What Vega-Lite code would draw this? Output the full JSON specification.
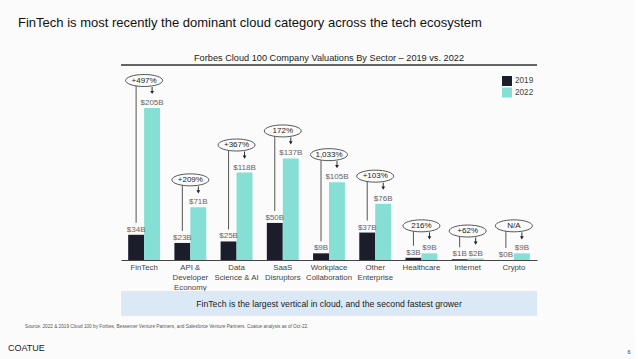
{
  "$schema": "https://vega.github.io/schema/vega-lite/v6.json",
  "background": "#fbfbfb",
  "padding": {"left": 8, "top": 17, "right": 4, "bottom": 2},
  "config": {"font": "Liberation Sans", "view": {"stroke": null}},
  "title": {
    "text": "FinTech is most recently the dominant cloud category across the tech ecosystem",
    "anchor": "start", "frame": "group", "dx": -103, "offset": 24,
    "fontSize": 13, "fontWeight": "normal", "color": "#111111"
  },
  "bounds": "flush",
  "spacing": 31,
  "datasets": {
    "bars": [
      {"sector": "FinTech", "year": "2019", "value": 34, "label": "$34B"},
      {"sector": "FinTech", "year": "2022", "value": 205, "label": "$205B"},
      {"sector": "API &\nDeveloper\nEconomy", "year": "2019", "value": 23, "label": "$23B"},
      {"sector": "API &\nDeveloper\nEconomy", "year": "2022", "value": 71, "label": "$71B"},
      {"sector": "Data\nScience & AI", "year": "2019", "value": 25, "label": "$25B"},
      {"sector": "Data\nScience & AI", "year": "2022", "value": 118, "label": "$118B"},
      {"sector": "SaaS\nDisruptors", "year": "2019", "value": 50, "label": "$50B"},
      {"sector": "SaaS\nDisruptors", "year": "2022", "value": 137, "label": "$137B"},
      {"sector": "Workplace\nCollaboration", "year": "2019", "value": 9, "label": "$9B"},
      {"sector": "Workplace\nCollaboration", "year": "2022", "value": 105, "label": "$105B"},
      {"sector": "Other\nEnterprise", "year": "2019", "value": 37, "label": "$37B"},
      {"sector": "Other\nEnterprise", "year": "2022", "value": 76, "label": "$76B"},
      {"sector": "Healthcare", "year": "2019", "value": 3, "label": "$3B"},
      {"sector": "Healthcare", "year": "2022", "value": 9, "label": "$9B"},
      {"sector": "Internet", "year": "2019", "value": 1, "label": "$1B"},
      {"sector": "Internet", "year": "2022", "value": 2, "label": "$2B"},
      {"sector": "Crypto", "year": "2019", "value": 0, "label": "$0B"},
      {"sector": "Crypto", "year": "2022", "value": 9, "label": "$9B"}
    ],
    "notes": [
      {"sector": "FinTech", "v2019": 34, "v2022": 205, "pct": "+497%"},
      {"sector": "API &\nDeveloper\nEconomy", "v2019": 23, "v2022": 71, "pct": "+209%"},
      {"sector": "Data\nScience & AI", "v2019": 25, "v2022": 118, "pct": "+367%"},
      {"sector": "SaaS\nDisruptors", "v2019": 50, "v2022": 137, "pct": "172%"},
      {"sector": "Workplace\nCollaboration", "v2019": 9, "v2022": 105, "pct": "1,033%"},
      {"sector": "Other\nEnterprise", "v2019": 37, "v2022": 76, "pct": "+103%"},
      {"sector": "Healthcare", "v2019": 3, "v2022": 9, "pct": "216%"},
      {"sector": "Internet", "v2019": 1, "v2022": 2, "pct": "+62%"},
      {"sector": "Crypto", "v2019": 0, "v2022": 9, "pct": "N/A"}
    ]
  },
  "vconcat": [
    {
      "width": 416,
      "height": 195,
      "title": {
        "text": "Forbes Cloud 100 Company Valuations By Sector – 2019 vs. 2022",
        "anchor": "middle", "offset": 1, "fontSize": 9.2, "fontWeight": "normal", "color": "#222222"
      },
      "layer": [
        {
          "data": {"values": [{}]},
          "mark": {"type": "rule", "color": "#333333", "strokeWidth": 1.3},
          "encoding": {
            "y": {"datum": 263, "type": "quantitative", "scale": {"domain": [0, 263]}, "axis": null}
          }
        },
        {
          "data": {"name": "bars"},
          "mark": {"type": "bar"},
          "encoding": {
            "x": {"field": "sector", "type": "nominal", "sort": null, "title": null,
              "scale": {"paddingInner": 0.31, "paddingOuter": 0.155},
              "axis": {"domainColor": "#444444", "domainWidth": 1, "ticks": false, "labelAngle": 0,
                "labelFontSize": 7.8, "labelColor": "#444444", "labelPadding": 3, "labelLineHeight": 10,
                "labelBaseline": "top", "labelOverlap": false, "labelLimit": 0, "grid": false,
                "labelExpr": "split(datum.label, '\\n')"}},
            "xOffset": {"field": "year", "type": "nominal", "scale": {"paddingInner": 0}},
            "y": {"field": "value", "type": "quantitative", "scale": {"domain": [0, 263]}, "axis": null},
            "color": {"field": "year", "type": "nominal",
              "scale": {"domain": ["2019", "2022"], "range": ["#1b1d2b", "#86dfd4"]},
              "legend": {"title": null, "orient": "none", "legendX": 381, "legendY": 11,
                "symbolType": "square", "symbolSize": 100, "symbolStrokeWidth": 0,
                "labelFontSize": 8.2, "labelColor": "#444444", "labelOffset": 3, "rowPadding": 1.5}}
          }
        },
        {
          "data": {"name": "bars"},
          "mark": {"type": "text", "fontSize": 8, "color": "#666666", "baseline": "alphabetic", "dy": -3},
          "encoding": {
            "x": {"field": "sector", "type": "nominal", "sort": null, "title": null,
              "axis": {"domainColor": "#444444", "domainWidth": 1, "ticks": false, "labelAngle": 0,
                "labelFontSize": 7.8, "labelColor": "#444444", "labelPadding": 3, "labelLineHeight": 10,
                "labelBaseline": "top", "labelOverlap": false, "labelLimit": 0, "grid": false,
                "labelExpr": "split(datum.label, '\\n')"}},
            "xOffset": {"field": "year", "type": "nominal"},
            "y": {"field": "value", "type": "quantitative", "scale": {"domain": [0, 263]}, "axis": null},
            "text": {"field": "label"}
          }
        },
        {
          "data": {"name": "notes"},
          "mark": {"type": "rule", "color": "#555555", "strokeWidth": 1, "xOffset": -8, "yOffset": -27, "y2Offset": -12},
          "encoding": {
            "x": {"field": "sector", "type": "nominal", "sort": null, "title": null,
              "axis": {"domainColor": "#444444", "domainWidth": 1, "ticks": false, "labelAngle": 0,
                "labelFontSize": 7.8, "labelColor": "#444444", "labelPadding": 3, "labelLineHeight": 10,
                "labelBaseline": "top", "labelOverlap": false, "labelLimit": 0, "grid": false,
                "labelExpr": "split(datum.label, '\\n')"}},
            "y": {"field": "v2022", "type": "quantitative", "scale": {"domain": [0, 263]}, "axis": null},
            "y2": {"field": "v2019"}
          }
        },
        {
          "data": {"name": "notes"},
          "mark": {"type": "rule", "color": "#333333", "strokeWidth": 1, "xOffset": 8, "yOffset": -21, "y2Offset": -16},
          "encoding": {
            "x": {"field": "sector", "type": "nominal", "sort": null, "title": null,
              "axis": {"domainColor": "#444444", "domainWidth": 1, "ticks": false, "labelAngle": 0,
                "labelFontSize": 7.8, "labelColor": "#444444", "labelPadding": 3, "labelLineHeight": 10,
                "labelBaseline": "top", "labelOverlap": false, "labelLimit": 0, "grid": false,
                "labelExpr": "split(datum.label, '\\n')"}},
            "y": {"field": "v2022", "type": "quantitative", "scale": {"domain": [0, 263]}, "axis": null},
            "y2": {"field": "v2022"}
          }
        },
        {
          "data": {"name": "notes"},
          "mark": {"type": "point", "shape": "triangle-down", "size": 14, "filled": true, "color": "#222222", "opacity": 1, "xOffset": 8, "yOffset": -15.5},
          "encoding": {
            "x": {"field": "sector", "type": "nominal", "sort": null, "title": null,
              "axis": {"domainColor": "#444444", "domainWidth": 1, "ticks": false, "labelAngle": 0,
                "labelFontSize": 7.8, "labelColor": "#444444", "labelPadding": 3, "labelLineHeight": 10,
                "labelBaseline": "top", "labelOverlap": false, "labelLimit": 0, "grid": false,
                "labelExpr": "split(datum.label, '\\n')"}},
            "y": {"field": "v2022", "type": "quantitative", "scale": {"domain": [0, 263]}, "axis": null}
          }
        },
        {
          "data": {"name": "notes"},
          "mark": {"type": "point",
            "shape": "M-1,0C-1,-0.179,-0.552,-0.324,0,-0.324C0.552,-0.324,1,-0.179,1,0C1,0.179,0.552,0.324,0,0.324C-0.552,0.324,-1,0.179,-1,0Z",
            "size": 1369, "filled": true, "fill": "#fbfbfb", "stroke": "#444444", "strokeWidth": 0.9, "opacity": 1, "yOffset": -27.5},
          "encoding": {
            "x": {"field": "sector", "type": "nominal", "sort": null, "title": null,
              "axis": {"domainColor": "#444444", "domainWidth": 1, "ticks": false, "labelAngle": 0,
                "labelFontSize": 7.8, "labelColor": "#444444", "labelPadding": 3, "labelLineHeight": 10,
                "labelBaseline": "top", "labelOverlap": false, "labelLimit": 0, "grid": false,
                "labelExpr": "split(datum.label, '\\n')"}},
            "y": {"field": "v2022", "type": "quantitative", "scale": {"domain": [0, 263]}, "axis": null}
          }
        },
        {
          "data": {"name": "notes"},
          "mark": {"type": "text", "fontSize": 8, "color": "#222222", "baseline": "middle", "yOffset": -27.5},
          "encoding": {
            "x": {"field": "sector", "type": "nominal", "sort": null, "title": null,
              "axis": {"domainColor": "#444444", "domainWidth": 1, "ticks": false, "labelAngle": 0,
                "labelFontSize": 7.8, "labelColor": "#444444", "labelPadding": 3, "labelLineHeight": 10,
                "labelBaseline": "top", "labelOverlap": false, "labelLimit": 0, "grid": false,
                "labelExpr": "split(datum.label, '\\n')"}},
            "y": {"field": "v2022", "type": "quantitative", "scale": {"domain": [0, 263]}, "axis": null},
            "text": {"field": "pct"}
          }
        }
      ]
    },
    {
      "width": 416,
      "height": 25,
      "view": {"fill": "#dbe9f7", "stroke": null},
      "title": {
        "text": "Source: 2022 & 2019 Cloud 100 by Forbes, Bessemer Venture Partners, and Salesforce Venture Partners. Coatue analysis as of Oct-22.",
        "orient": "bottom", "anchor": "start", "frame": "group", "dx": -96, "offset": 8,
        "fontSize": 4.7, "fontWeight": "normal", "color": "#555555"
      },
      "data": {"values": [{"msg": "FinTech is the largest vertical in cloud, and the second fastest grower"}]},
      "mark": {"type": "text", "fontSize": 8.7, "color": "#1a1a1a", "baseline": "middle"},
      "encoding": {"text": {"field": "msg"}}
    },
    {
      "width": 416,
      "height": 10,
      "layer": [
        {
          "data": {"values": [{"t": "COATUE"}]},
          "mark": {"type": "text", "fontSize": 9, "color": "#222222", "align": "left", "baseline": "middle", "dx": -321, "dy": -3.7},
          "encoding": {"text": {"field": "t"}}
        },
        {
          "data": {"values": [{"t": "6"}]},
          "mark": {"type": "text", "fontSize": 5.5, "color": "#333333", "align": "center", "baseline": "middle", "dx": 300},
          "encoding": {"text": {"field": "t"}}
        }
      ]
    }
  ]
}
